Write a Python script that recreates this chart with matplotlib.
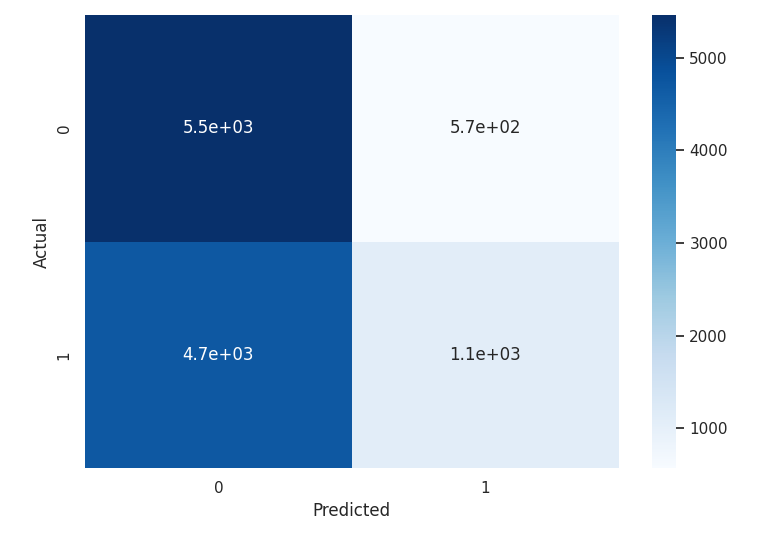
import matplotlib
matplotlib.use("Agg")
import matplotlib.pyplot as plt
import seaborn as sns
import numpy as np

row_labels = ["0", "1"]
col_labels = ["0", "1"]
row0 = [5460, 573]
row1 = [4700, 1100]

cm = np.array([row0, row1])
sns.set_theme(style="white")
fig = plt.figure(figsize=(7.64, 5.38), dpi=100)
ax = fig.add_axes([0.111, 0.130, 0.699, 0.842])
cax = fig.add_axes([0.853, 0.130, 0.032, 0.842])
sns.heatmap(cm, annot=True, cmap="Blues", ax=ax, cbar_ax=cax,
            xticklabels=col_labels, yticklabels=row_labels)
ax.set_xlabel("Predicted")
ax.set_ylabel("Actual")
fig.savefig("out.png", dpi=100)
